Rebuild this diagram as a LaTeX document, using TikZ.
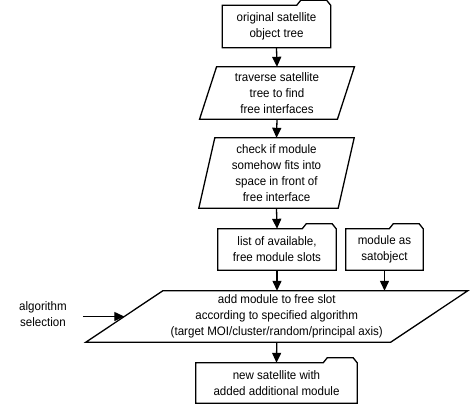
\documentclass[tikz,border=0pt]{standalone}
\usepackage{fontspec}
\setmainfont[FakeStretch=0.94]{Liberation Sans}
\usetikzlibrary{positioning, arrows.meta, calc}

\tikzset{
  flow/.style={line width=1.3pt, line join=miter},
  arr/.style={line width=1.3pt, -{Triangle[length=10pt, width=9pt]}},
  stepbox/.style={rectangle, draw=none, align=center, inner sep=0pt,
    font=\fontsize{12.3}{16}\selectfont},
}

\begin{document}
\begin{tikzpicture}[x=1pt, y=1pt]
  \useasboundingbox (0,0) rectangle (474,-410);

  % nodes (outlines are drawn afterwards)
  \node[stepbox, minimum width=108pt, minimum height=42pt] (orig) at (276.5,-26.5)
    {original satellite\\object tree};
  \node[stepbox, minimum width=137.5pt, minimum height=52pt] (trav) at (277,-93)
    {traverse satellite\\tree to find\\free interfaces};
  \node[stepbox, minimum width=139pt, minimum height=70pt] (check) at (276.5,-173)
    {check if module\\somehow fits into\\space in front of\\free interface};
  \node[stepbox, minimum width=118pt, minimum height=41pt] (slots) at (277,-249.5)
    {list of available,\\free module slots};
  \node[stepbox, minimum width=77pt, minimum height=41pt] (modobj) at (384.5,-249.5)
    {module as\\satobject};
  \node[stepbox, minimum width=304.5pt, minimum height=51pt] (addmod) at (276.75,-316.5)
    {add module to free slot\\according to specified algorithm\\(target MOI/cluster/random/principal axis)};
  \node[stepbox, minimum width=161pt, minimum height=40pt] (newsat) at (276.5,-383)
    {new satellite with\\added additional module};
  \node[stepbox] (algsel) at (43,-314) {algorithm\\selection};

  % folder shaped boxes
  \foreach \n in {orig, slots, modobj, newsat}
    \draw[flow] (\n.south west) -- (\n.north west) -- ([xshift=-34pt]\n.north east)
      -- ++(4pt,5pt) -- ([xshift=-4pt, yshift=5pt]\n.north east) -- (\n.north east)
      -- (\n.south east) -- cycle;

  % parallelograms
  \foreach \n/\s in {trav/8.5, check/8, addmod/38.5}
    \draw[flow] ([xshift=-\s pt]\n.south west) -- ([xshift=\s pt]\n.north west)
      -- ([xshift=\s pt]\n.north east) -- ([xshift=-\s pt]\n.south east) -- cycle;

  % connectors
  \draw[arr] (orig.south) -- (trav.north);
  \draw[arr] (trav.south) -- (check.north);
  \draw[arr] (check.south) -- (slots.north);
  \draw[arr] (slots.south) -- (slots.south |- addmod.north);
  \draw[arr] (modobj.south) -- (modobj.south |- addmod.north);
  \draw[arr] (addmod.south) -- (newsat.north);
  \draw[arr] ([xshift=16pt]algsel.east |- addmod.west) -- (addmod.west);
\end{tikzpicture}
\end{document}
